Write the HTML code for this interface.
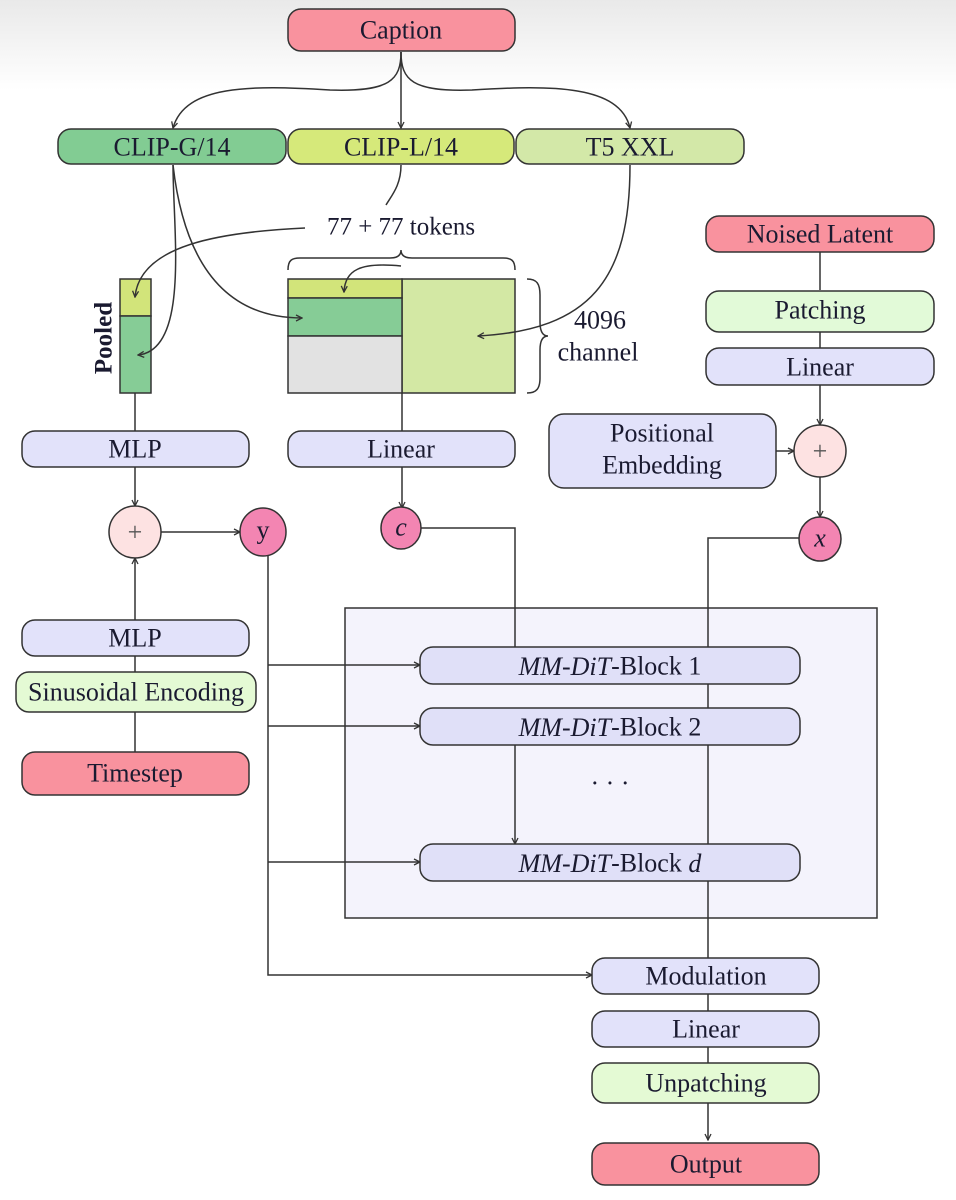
<!DOCTYPE html>
<html><head><meta charset="utf-8"><style>
html,body{margin:0;padding:0;background:#fff}
svg{display:block}
text{font-family:"Liberation Serif",serif;font-size:26px;fill:#1a1a30;text-anchor:middle;dominant-baseline:central}
</style></head><body>
<svg width="956" height="1200" viewBox="0 0 956 1200" xmlns="http://www.w3.org/2000/svg">
<defs>
<linearGradient id="bg" x1="0" y1="0" x2="0" y2="1"><stop offset="0" stop-color="#e9e9e9"/><stop offset="1" stop-color="#ffffff"/></linearGradient>
<marker id="ar" markerWidth="8" markerHeight="8" refX="7" refY="4" orient="auto" markerUnits="userSpaceOnUse"><path d="M1,1 L7,4 L1,7" fill="none" stroke="#333" stroke-width="1.3"/></marker>
</defs>
<rect x="0" y="0" width="956" height="90" fill="url(#bg)"/>
<g stroke="#333" stroke-width="1.5">
<rect x="402" y="279" width="113" height="114" fill="#d3e8a4"/>
<rect x="288" y="279" width="114" height="19" fill="#d2e47a"/>
<rect x="288" y="298" width="114" height="38" fill="#86cc96"/>
<rect x="288" y="336" width="114" height="57" fill="#e2e2e2"/>
<rect x="120" y="279" width="31" height="37" fill="#d2e47a"/>
<rect x="120" y="316" width="31" height="77" fill="#86cc96"/>
</g>
<g stroke="#333" stroke-width="1.5" fill="none">
<path d="M401,52 V128" marker-end="url(#ar)"/>
<path d="M401,52 C401,80 390,92 330,90 C250,85 185,85 173,128" marker-end="url(#ar)"/>
<path d="M401,52 C401,80 412,92 472,90 C552,85 620,85 630,128" marker-end="url(#ar)"/>
<path d="M401,165 C401,185 392,195 386,205"/>
<path d="M305,228 C220,232 140,245 135,297" marker-end="url(#ar)"/>
<path d="M173,165 C173,230 190,350 138,355" marker-end="url(#ar)"/>
<path d="M173,165 C185,270 230,318 302,318" marker-end="url(#ar)"/>
<path d="M630,165 C630,280 590,330 478,336" marker-end="url(#ar)"/>
<path d="M288,270 C288,260 292,258 300,258 L390,258 C398,258 401,255 401,250 C401,255 404,258 412,258 L503,258 C511,258 515,260 515,270"/>
<path d="M401,266 C360,262 345,270 344,292" marker-end="url(#ar)"/>
<path d="M527,279 C537,279 540,284 540,295 L540,322 C540,332 543,336 548,336 C543,336 540,340 540,350 L540,378 C540,388 537,393 527,393"/>
<path d="M135,393 V431"/>
<path d="M402,393 V431"/>
<path d="M135,467 V506" marker-end="url(#ar)"/>
<path d="M402,467 V508" marker-end="url(#ar)"/>
<path d="M161,532 H240" marker-end="url(#ar)"/>
<path d="M135,752 V558" marker-end="url(#ar)"/>
<path d="M820,252 V290"/>
<path d="M820,332 V348"/>
<path d="M820,385 V425" marker-end="url(#ar)"/>
<path d="M776,451 H794" marker-end="url(#ar)"/>
<path d="M820,477 V517" marker-end="url(#ar)"/>
</g>
<rect x="345" y="608" width="532" height="310" fill="#f4f3fc" stroke="#333" stroke-width="1.5"/>
<g stroke="#333" stroke-width="1.5" fill="none">
<path d="M421,528 H515 V647"/>
<path d="M799,538 H708 V1140" marker-end="url(#ar)"/>
<path d="M515,745 V844" marker-end="url(#ar)"/>
<path d="M268,555 V975 H592" marker-end="url(#ar)"/>
<path d="M268,665 H420" marker-end="url(#ar)"/>
<path d="M268,726 H420" marker-end="url(#ar)"/>
<path d="M268,862 H420" marker-end="url(#ar)"/>
</g>
<text x="104" y="338" transform="rotate(-90 104 338)" font-weight="bold" style="font-size:25px">Pooled</text>
<text x="401" y="227" style="font-size:25px">77 + 77 tokens</text>
<text x="600" y="320">4096</text>
<text x="598" y="352">channel</text>
<g stroke="#333" stroke-width="1.5">
<rect x="288" y="9" width="227" height="42" rx="13" fill="#f9929e"/>
<rect x="58" y="129" width="228" height="35" rx="13" fill="#82cc93"/>
<rect x="288" y="129" width="226" height="35" rx="13" fill="#d6e97a"/>
<rect x="516" y="129" width="228" height="35" rx="13" fill="#d3e8a8"/>
<rect x="706" y="216" width="228" height="36" rx="13" fill="#f9929e"/>
<rect x="706" y="291" width="228" height="41" rx="13" fill="#e2fad8"/>
<rect x="706" y="348" width="228" height="37" rx="13" fill="#e2e2fa"/>
<rect x="549" y="414" width="227" height="74" rx="15" fill="#e2e2fa"/>
<rect x="22" y="431" width="227" height="36" rx="13" fill="#e2e2fa"/>
<rect x="288" y="431" width="227" height="36" rx="13" fill="#e2e2fa"/>
<rect x="22" y="620" width="227" height="36" rx="13" fill="#e2e2fa"/>
<rect x="16" y="672" width="240" height="40" rx="13" fill="#e4fad4"/>
<rect x="22" y="752" width="227" height="43" rx="13" fill="#f9929e"/>
<rect x="420" y="647" width="380" height="37" rx="13" fill="#e0e0f8"/>
<rect x="420" y="708" width="380" height="37" rx="13" fill="#e0e0f8"/>
<rect x="420" y="844" width="380" height="37" rx="13" fill="#e0e0f8"/>
<rect x="592" y="958" width="227" height="36" rx="13" fill="#e2e2fa"/>
<rect x="592" y="1011" width="227" height="36" rx="13" fill="#e2e2fa"/>
<rect x="592" y="1063" width="227" height="40" rx="13" fill="#e4fad4"/>
<rect x="592" y="1143" width="227" height="42" rx="13" fill="#f9929e"/>
<ellipse cx="820" cy="451" rx="26" ry="26" fill="#fde2e2"/>
<ellipse cx="135" cy="532" rx="26" ry="26" fill="#fde2e2"/>
<ellipse cx="263" cy="532" rx="23" ry="24" fill="#f385b2"/>
<ellipse cx="401" cy="528" rx="20" ry="21" fill="#f385b2"/>
<ellipse cx="820" cy="539" rx="21" ry="22" fill="#f385b2"/>
</g>
<g>
<text x="401" y="30">Caption</text>
<text x="172" y="147">CLIP-G/14</text>
<text x="401" y="147">CLIP-L/14</text>
<text x="630" y="147">T5 XXL</text>
<text x="820" y="234">Noised Latent</text>
<text x="820" y="310">Patching</text>
<text x="820" y="367">Linear</text>
<text x="662" y="433">Positional</text>
<text x="662" y="465">Embedding</text>
<text x="135" y="449">MLP</text>
<text x="401" y="449">Linear</text>
<text x="135" y="532" style="fill:#555">+</text>
<text x="820" y="451" style="fill:#555">+</text>
<text x="263" y="530">y</text>
<text x="401" y="527" font-style="italic">c</text>
<text x="820" y="538" font-style="italic">x</text>
<text x="135" y="638">MLP</text>
<text x="136" y="692">Sinusoidal Encoding</text>
<text x="135" y="773">Timestep</text>
<text x="610" y="666"><tspan font-style="italic">MM-DiT</tspan>-Block 1</text>
<text x="610" y="727"><tspan font-style="italic">MM-DiT</tspan>-Block 2</text>
<text x="610" y="783">· · ·</text>
<text x="610" y="863"><tspan font-style="italic">MM-DiT</tspan>-Block <tspan font-style="italic">d</tspan></text>
<text x="706" y="976">Modulation</text>
<text x="706" y="1029">Linear</text>
<text x="706" y="1083">Unpatching</text>
<text x="706" y="1164">Output</text>
</g>
</svg>
</body></html>
